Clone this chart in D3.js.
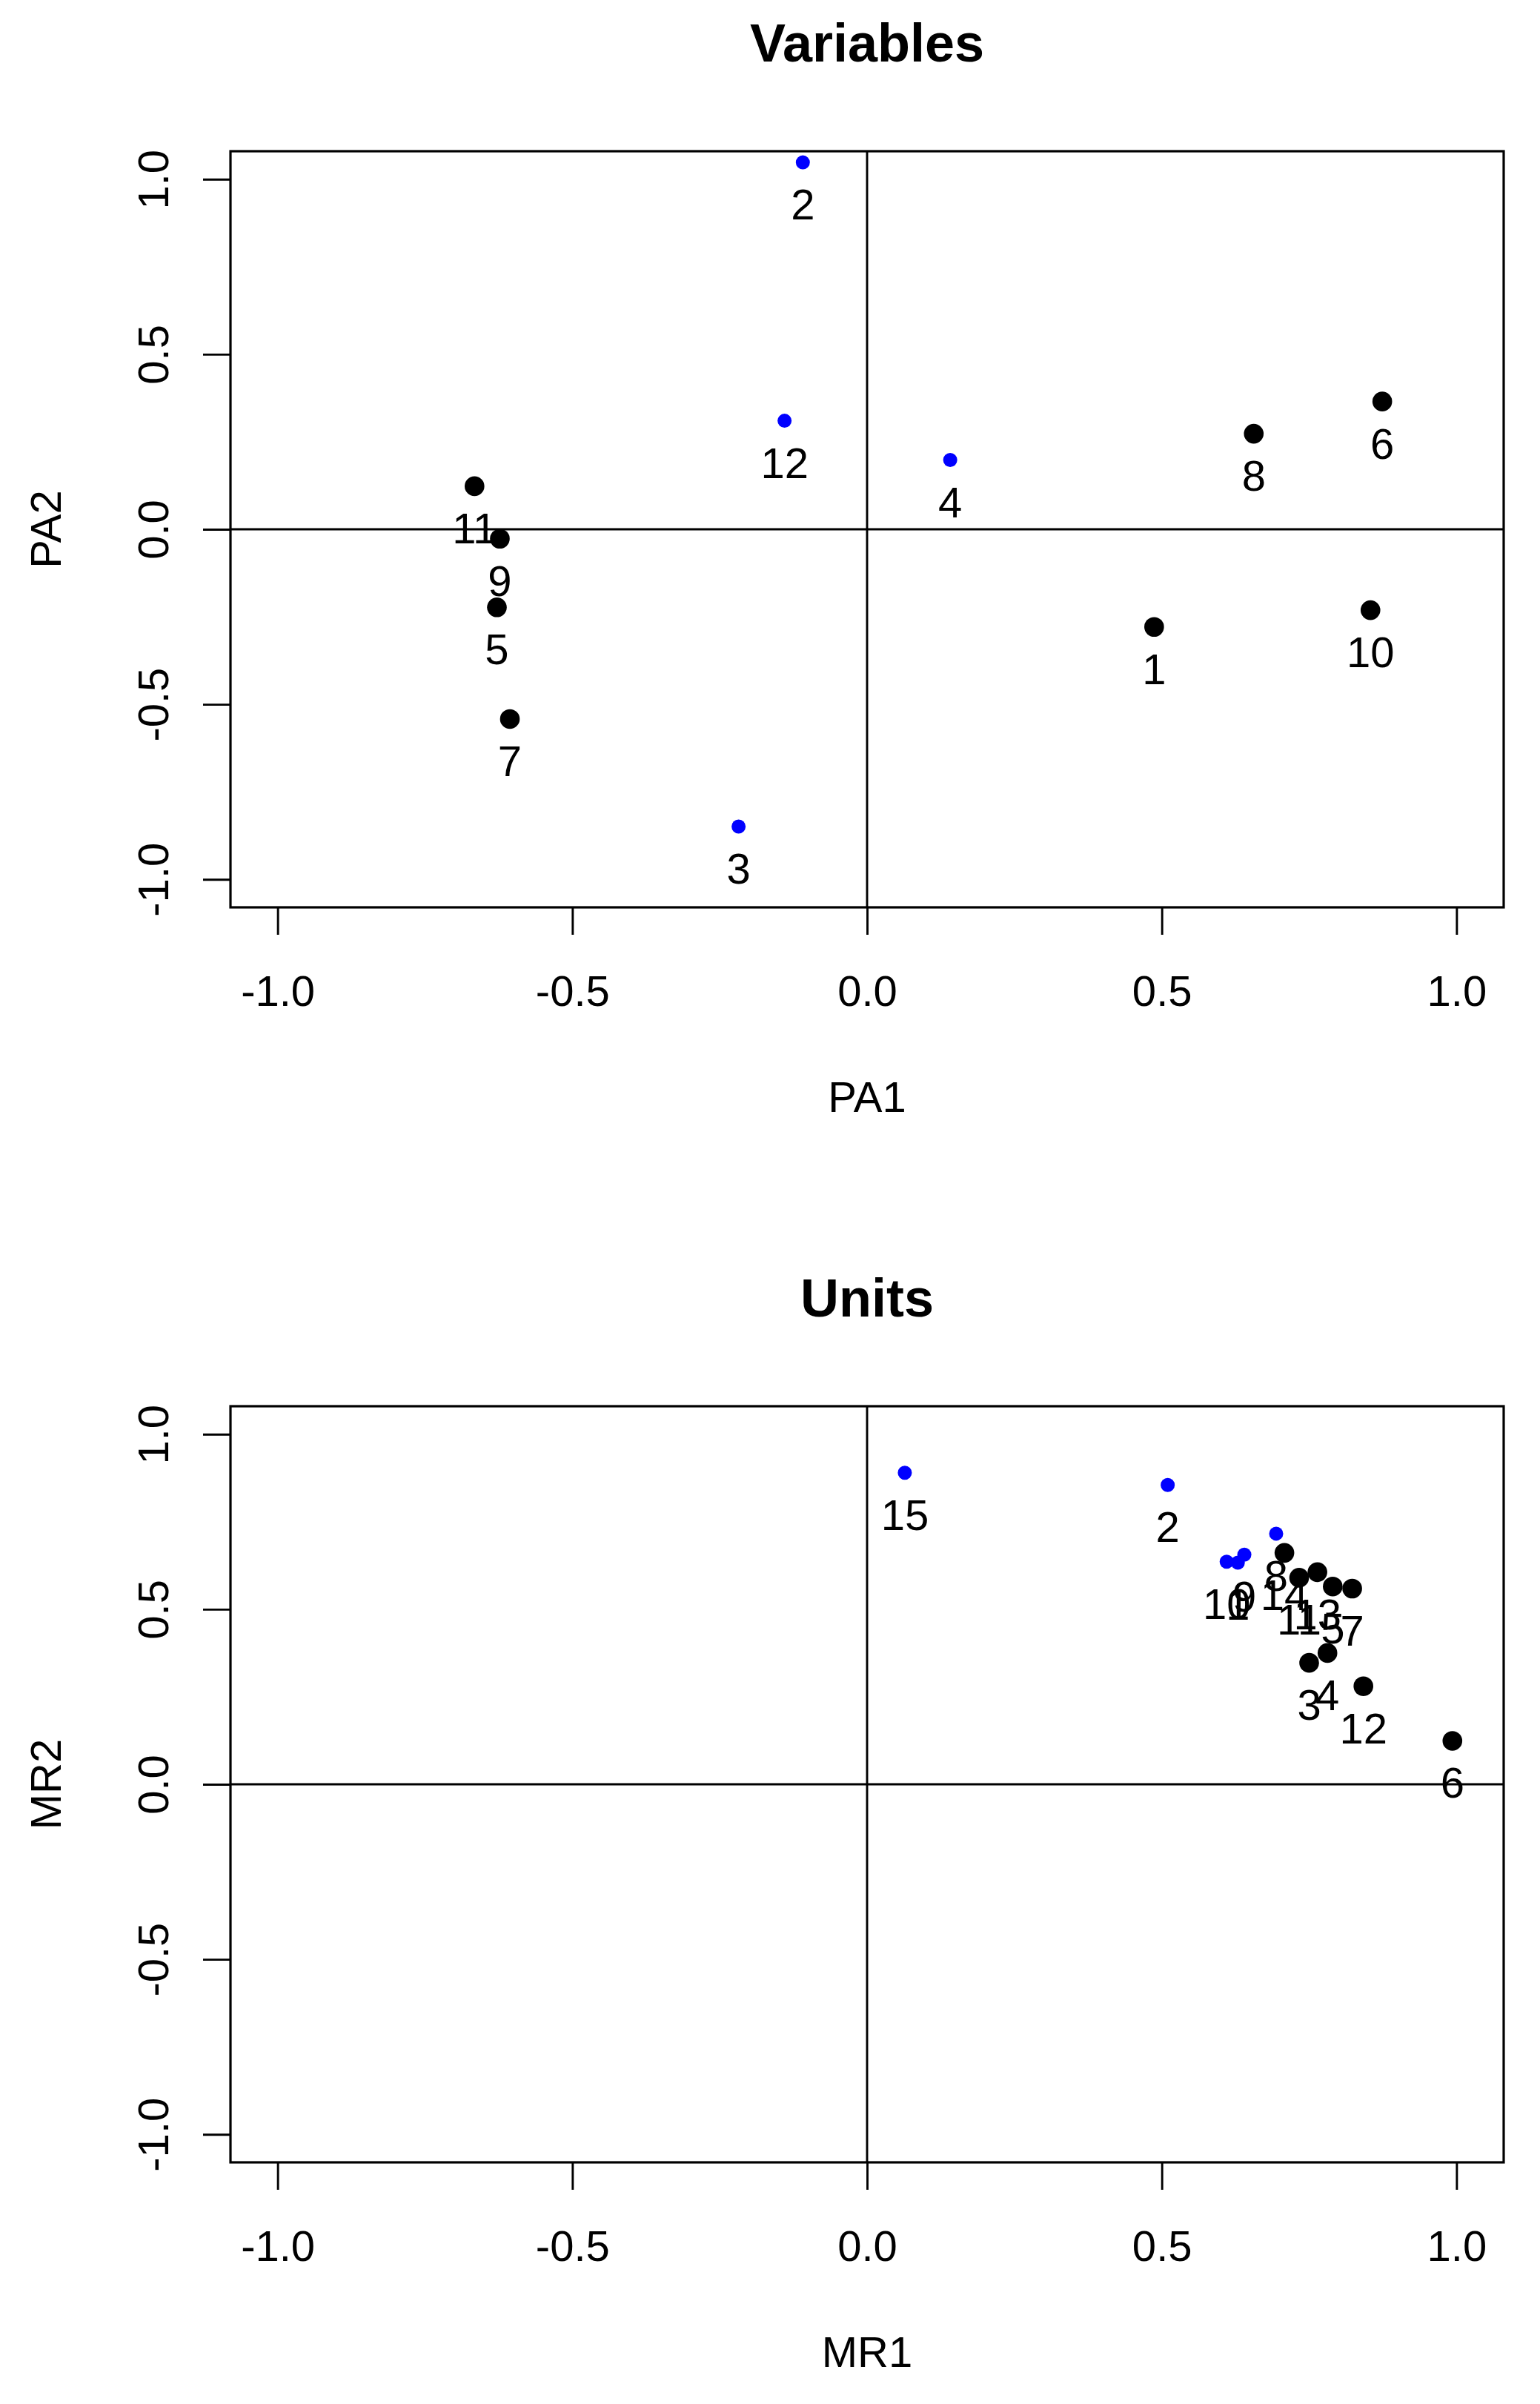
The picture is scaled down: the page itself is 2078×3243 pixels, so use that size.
<!DOCTYPE html>
<html>
<head>
<meta charset="utf-8">
<script src="https://cdn.jsdelivr.net/npm/d3@7"></script>
<style>
  html, body { margin: 0; padding: 0; background: #fff; }
  svg { display: block; }
  text { font-family: "Liberation Sans", Arial, Helvetica, sans-serif; }
</style>
</head>
<body>
<script>
// ---------------- DATA ----------------
const axisTicks = [-1.0, -0.5, 0.0, 0.5, 1.0];

// Variables panel (PA1 / PA2)
const varLabels = ["1","2","3","4","5","6","7","8","9","10","11","12"];
const varPA1    = [0.487, -0.109, -0.218, 0.141, -0.628, 0.874, -0.606, 0.656, -0.623, 0.854, -0.666, -0.140];
const varPA2    = [-0.279, 1.048, -0.849, 0.198, -0.223, 0.365, -0.542, 0.273, -0.027, -0.231, 0.123, 0.310];
const varGroup  = ["k","b","b","b","k","k","k","k","k","k","k","b"];

// Units panel (MR1 / MR2)
const unitLabels = ["1","2","3","4","5","6","7","8","9","10","11","12","13","14","15"];
const unitMR1    = [0.629, 0.510, 0.750, 0.781, 0.790, 0.993, 0.823, 0.694, 0.640, 0.610, 0.733, 0.842, 0.764, 0.708, 0.064];
const unitMR2    = [0.633, 0.855, 0.347, 0.375, 0.565, 0.124, 0.559, 0.716, 0.656, 0.636, 0.590, 0.280, 0.606, 0.661, 0.890];
const unitGroup  = ["b","b","k","k","k","k","k","b","b","b","k","k","k","k","b"];

// ---------------- LAYOUT ----------------
const W = 2078, H = 3243;
const left = 311, right = 2029, top0 = 204, bottom0 = 1224, panelShift = 1693;
const FS = 58;

const svg = d3.select("body").append("svg")
  .attr("width", W).attr("height", H)
  .attr("viewBox", `0 0 ${W} ${H}`);
svg.append("rect").attr("width", W).attr("height", H).attr("fill", "#fff");

const colorOf = g => g === "b" ? "#0000FF" : "#000000";
const radiusOf = g => g === "b" ? 9.5 : 13.3;

const panels = [
  { title: "Variables", xlab: "PA1", ylab: "PA2", labels: varLabels, xs: varPA1, ys: varPA2, groups: varGroup },
  { title: "Units", xlab: "MR1", ylab: "MR2", labels: unitLabels, xs: unitMR1, ys: unitMR2, groups: unitGroup }
];

panels.forEach((p, i) => {
  const off = i * panelShift;
  const top = top0 + off, bottom = bottom0 + off;
  const x = d3.scaleLinear().domain([-1.08, 1.08]).range([left, right]);
  const y = d3.scaleLinear().domain([-1.08, 1.08]).range([bottom, top]);
  const g = svg.append("g");

  // zero reference lines
  g.append("line")
    .attr("x1", left).attr("x2", right).attr("y1", y(0)).attr("y2", y(0))
    .attr("stroke", "#000").attr("stroke-width", 2.9);
  g.append("line")
    .attr("x1", x(0)).attr("x2", x(0)).attr("y1", top).attr("y2", bottom)
    .attr("stroke", "#000").attr("stroke-width", 2.9);

  // x axis
  const xa = g.append("g").attr("transform", `translate(0,${bottom})`)
    .call(d3.axisBottom(x).tickValues(axisTicks).tickFormat(d => d.toFixed(1))
      .tickSize(37).tickSizeOuter(0));
  xa.select(".domain").remove();
  xa.selectAll("line").attr("stroke", "#000").attr("stroke-width", 2.9);
  xa.selectAll("text").attr("y", 133).attr("dy", 0)
    .attr("font-size", FS).attr("fill", "#000")
    .style("font-family", '"Liberation Sans", Arial, sans-serif');

  // y axis
  const ya = g.append("g").attr("transform", `translate(${left},0)`)
    .call(d3.axisLeft(y).tickValues(axisTicks).tickFormat(d => d.toFixed(1))
      .tickSize(37).tickSizeOuter(0));
  ya.select(".domain").remove();
  ya.selectAll("line").attr("stroke", "#000").attr("stroke-width", 2.9);
  ya.selectAll("text").attr("x", 0).attr("dy", 0)
    .attr("transform", "translate(-84,0) rotate(-90)")
    .attr("text-anchor", "middle")
    .attr("font-size", FS).attr("fill", "#000")
    .style("font-family", '"Liberation Sans", Arial, sans-serif');

  // box
  g.append("rect")
    .attr("x", left).attr("y", top).attr("width", right - left).attr("height", bottom - top)
    .attr("fill", "none").attr("stroke", "#000").attr("stroke-width", 3.2);

  // points
  const idx = d3.range(p.labels.length);
  g.selectAll("circle.pt").data(idx).enter().append("circle")
    .attr("class", "pt")
    .attr("cx", d => x(p.xs[d])).attr("cy", d => y(p.ys[d]))
    .attr("r", d => radiusOf(p.groups[d]))
    .attr("fill", d => colorOf(p.groups[d]));

  // labels (below points)
  g.selectAll("text.lab").data(idx).enter().append("text")
    .attr("class", "lab")
    .attr("x", d => x(p.xs[d])).attr("y", d => y(p.ys[d]) + 77)
    .attr("text-anchor", "middle").attr("font-size", FS).attr("fill", "#000")
    .text(d => p.labels[d]);

  // title
  g.append("text")
    .attr("x", (left + right) / 2).attr("y", 83 + off)
    .attr("text-anchor", "middle").attr("font-size", 72).attr("font-weight", "bold")
    .attr("fill", "#000").text(p.title);

  // axis titles
  g.append("text")
    .attr("x", (left + right) / 2).attr("y", 1500 + off)
    .attr("text-anchor", "middle").attr("font-size", FS).attr("fill", "#000")
    .text(p.xlab);
  g.append("text")
    .attr("transform", `translate(82,${(top + bottom) / 2}) rotate(-90)`)
    .attr("text-anchor", "middle").attr("font-size", FS).attr("fill", "#000")
    .text(p.ylab);
});
</script>
</body>
</html>
